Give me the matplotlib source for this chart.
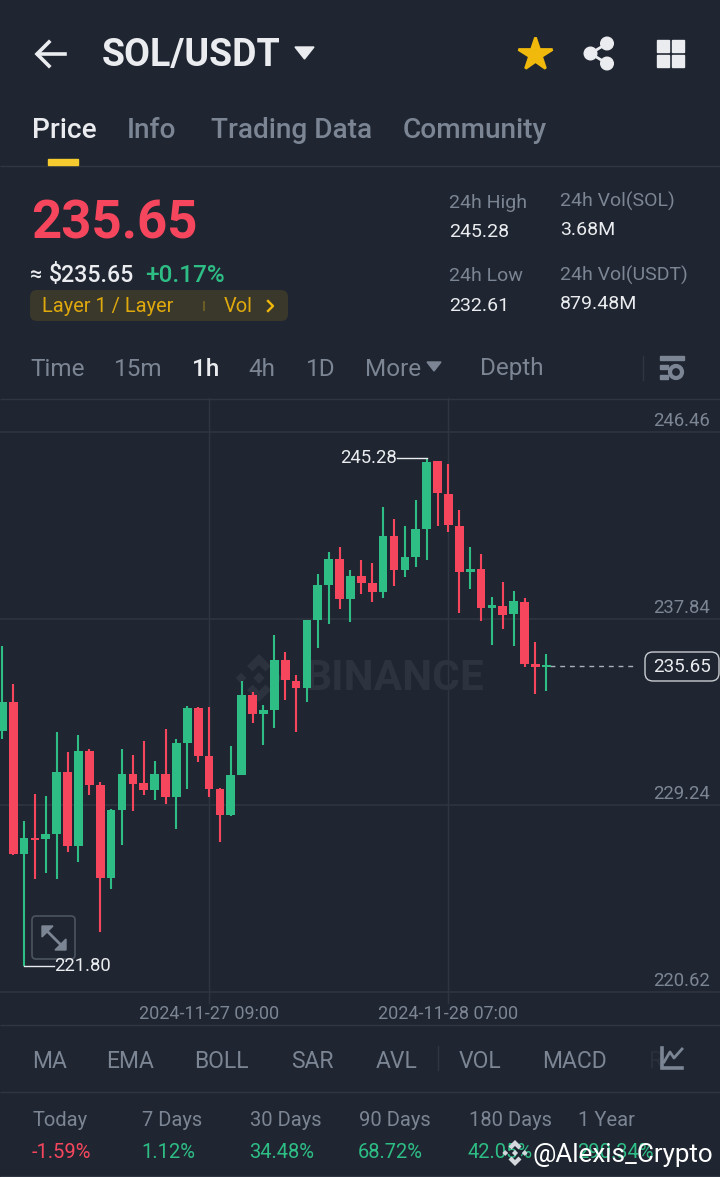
import matplotlib
matplotlib.use("Agg")
import matplotlib.pyplot as plt
from matplotlib.patches import FancyBboxPatch, Rectangle, Polygon, Circle
import numpy as np

plt.rcParams['font.family'] = ['Roboto', 'DejaVu Sans']

# ======= candle data (1h) =======
opens = [232.67, 233.99, 227.01, 227.73, 227.69, 227.92, 230.79, 227.37, 231.76, 230.19,
         225.90, 229.04, 230.70, 230.26, 229.92, 230.69, 229.63, 232.12, 233.73, 231.52,
         230.01, 228.78, 230.65, 234.33, 233.47, 233.64, 235.93, 234.99, 234.64, 237.79,
         239.39, 240.59, 238.76, 239.82, 239.51, 239.08, 241.66, 240.08, 240.68, 241.97,
         245.11, 243.62, 242.13, 240.02, 240.13, 238.36, 238.45, 238.05, 238.63, 235.75,
         235.64]
closes = [233.99, 227.01, 227.73, 227.64, 227.91, 230.79, 227.37, 231.76, 230.19, 225.90,
          229.03, 230.70, 230.23, 229.92, 230.69, 229.63, 232.12, 233.72, 231.52, 229.99,
          228.80, 230.65, 234.33, 233.47, 233.62, 235.93, 235.02, 234.64, 237.79, 239.39,
          240.59, 238.76, 239.82, 239.51, 239.08, 241.66, 240.08, 240.68, 241.97, 245.09,
          243.63, 242.16, 240.02, 240.14, 238.33, 238.47, 238.03, 238.65, 235.76, 235.64,
          235.70]
highs = [236.60, 234.84, 228.51, 229.76, 229.67, 232.64, 231.69, 232.49, 231.84, 230.30,
         229.06, 231.84, 231.56, 232.20, 231.27, 232.76, 232.30, 233.81, 233.76, 233.78,
         230.03, 231.95, 234.99, 234.46, 233.86, 237.08, 236.33, 235.27, 237.80, 239.90,
         240.91, 241.14, 240.11, 240.56, 240.43, 243.00, 242.45, 242.11, 243.33, 245.28,
         245.11, 244.99, 242.85, 241.14, 240.82, 238.86, 239.54, 239.14, 238.82, 236.78,
         236.21]
lows = [232.30, 226.95, 221.80, 225.83, 226.11, 225.83, 227.09, 226.61, 229.73, 223.41,
        225.37, 227.41, 228.99, 229.73, 229.49, 229.30, 228.15, 229.99, 231.24, 229.64,
        227.52, 228.76, 230.64, 233.04, 232.04, 232.78, 234.10, 232.62, 234.01, 236.51,
        237.59, 238.28, 237.71, 238.99, 238.63, 238.79, 239.36, 239.79, 240.25, 240.56,
        242.11, 241.86, 238.11, 239.23, 237.74, 236.62, 237.37, 236.58, 235.64, 234.39,
        234.53]

price_ticks = [246.46, 237.84, 229.24, 220.62]
date_labels = ["2024-11-27 09:00", "2024-11-28 07:00"]
date_slots = [19, 41]
last_price = 235.65
high_mark = (39, 245.28)
low_mark = (2, 221.80)

tabs = ["Price", "Info", "Trading Data", "Community"]
intervals = ["Time", "15m", "1h", "4h", "1D", "More", "Depth"]
indicators = ["MA", "EMA", "BOLL", "SAR", "AVL", "VOL", "MACD"]
periods = ["Today", "7 Days", "30 Days", "90 Days", "180 Days", "1 Year"]
period_vals = ["-1.59%", "1.12%", "34.48%", "68.72%", "42.05%", "290.34%"]

BG = "#1f2631"
GREEN = "#2ebd85"
RED = "#f6465d"
GREY = "#7c8594"
LINE = "#2f3641"
WHITE = "#eaecef"
YEL = "#f0b90b"

fig = plt.figure(figsize=(7.2, 11.77), dpi=100, facecolor=BG)

# ======= page layer, in pixels =======
ui = fig.add_axes([0, 0, 1, 1])
ui.set_xlim(0, 720)
ui.set_ylim(1177, 0)
ui.axis("off")


def t(x, y, s, size, color=GREY, ha="left", weight="normal", z=5):
    # va center sits about 2px high against the screenshot
    return ui.text(x, y + 2, s, fontsize=size, color=color, ha=ha, va="center", fontweight=weight, zorder=z)


def hline(y, x0=0, x1=720, color=LINE, lw=1.0):
    ui.plot([x0, x1], [y, y], color=color, lw=lw, solid_capstyle="butt")


def rbox(x, y, w, h, r, **kw):
    ui.add_patch(FancyBboxPatch((x + r, y + r), w - 2 * r, h - 2 * r,
                                boxstyle="round,pad=%s,rounding_size=%s" % (r, r), **kw))


def logo(cx, cy, r, color, z=1):
    # exchange logo: three diamonds and two chevrons
    for dx in [-0.75, 0, 0.75]:
        q = 0.25 * r * (0.95 if dx == 0 else 0.9)
        x0 = cx + dx * r
        ui.add_patch(Polygon([(x0 - q, cy), (x0, cy - q), (x0 + q, cy), (x0, cy + q)],
                             closed=True, fc=color, ec="none", zorder=z))
    for sgn in [-1, 1]:
        pts = [(0, -1.0), (0.5, -0.5), (0.27, -0.27), (0, -0.54), (-0.27, -0.27), (-0.5, -0.5)]
        ui.add_patch(Polygon([(cx + a * r, cy + sgn * b * r) for a, b in pts],
                             closed=True, fc=color, ec="none", zorder=z))


# header
ui.plot([49, 37, 49], [42, 54, 66], color=WHITE, lw=2.6, solid_joinstyle="miter")
ui.plot([38, 65], [54, 54], color=WHITE, lw=2.6)
t(102, 54, "SOL/USDT", 27, WHITE, weight="bold")
ui.add_patch(Polygon([(295, 47), (314, 47), (304.5, 59)], color=WHITE))
ui.plot([535], [54], marker="*", ms=25, color=YEL, mec=YEL, mew=2)
for cx, cy in [(607, 43.5), (590.5, 53.5), (607, 63.5)]:
    ui.add_patch(Circle((cx, cy), 6.3, color=WHITE))
ui.plot([607, 590.5, 607], [43.5, 53.5, 63.5], color=WHITE, lw=2)
for gx, gy in [(657, 40), (672, 40), (657, 55), (672, 55)]:
    ui.add_patch(Rectangle((gx, gy), 11.7, 12, color=WHITE))

# tabs
for x, s, c in zip([32, 127, 211, 403], tabs, [WHITE, GREY, GREY, GREY]):
    t(x, 129, s, 20.2, c, weight="medium")
ui.add_patch(Rectangle((48, 159), 30, 6, color="#f6cb2f", zorder=3))
hline(165.5)

# price block
t(31, 222, "235.65", 38, RED, weight="bold")
t(30, 273, "≈", 15.5, WHITE, weight="medium")
t(49, 273, "$235.65", 16.7, WHITE, weight="medium")
t(145, 273, "+0.17%", 17.5, GREEN, weight="medium")
rbox(30, 290, 258, 31, 7, fc="#3a372b", ec="none")
t(42, 304, "Layer 1 / Layer", 14.4, "#dfa90d")
ui.plot([204, 204], [302, 310], color="#6b5f25", lw=1.4)
t(224, 304, "Vol", 14.4, "#dfa90d")
ui.plot([268, 273, 268], [301, 306, 311], color=YEL, lw=1.7)

t(449, 201, "24h High", 14, GREY)
t(449, 230, "245.28", 14, WHITE)
t(449, 274, "24h Low", 14, GREY)
t(449, 304, "232.61", 14, WHITE)
t(560, 199, "24h Vol(SOL)", 14, GREY)
t(560, 228, "3.68M", 14, WHITE)
t(560, 273, "24h Vol(USDT)", 14, GREY)
t(560, 302, "879.48M", 14, WHITE)

# interval row
for x, s in zip([30, 114, 192, 248, 306, 365, 480], intervals):
    t(x, 367, s, 17.5, WHITE if s == "1h" else GREY, weight="medium" if s == "1h" else "normal")
ui.add_patch(Polygon([(427, 362), (441, 362), (434, 371)], color=GREY))
ui.plot([642.5, 642.5], [356, 380], color=LINE, lw=1)
ui.add_patch(Rectangle((660, 356), 24, 3.5, color=GREY))
ui.add_patch(Rectangle((660, 365), 8, 4, color=GREY))
ui.add_patch(Rectangle((660, 375), 8, 4, color=GREY))
ui.add_patch(Circle((676, 372), 6, fc=BG, ec=GREY, lw=3))
hline(398.5)

# ======= candles =======
top_px, bot_px = 398, 992
ax = fig.add_axes([0, 1 - bot_px / 1177, 1, (bot_px - top_px) / 1177])
ax.patch.set_alpha(0)
ax.set_xlim(-0.211, 65.96)
ax.set_ylim(220.62, 248.03)
ax.set_axis_off()
ax.set_zorder(2)

opens_a, closes_a = np.array(opens), np.array(closes)
idx = np.arange(len(opens))
colors = [GREEN if c >= o else RED for o, c in zip(opens_a, closes_a)]
for p in price_ticks:
    ax.axhline(p, color=LINE, lw=1.1, zorder=1, clip_on=False)
ax.vlines(idx, lows, highs, colors=colors, lw=1.5, zorder=3)
ax.bar(idx, np.maximum(np.abs(closes_a - opens_a), 0.07), bottom=np.minimum(opens_a, closes_a),
       width=0.8, color=colors, zorder=4)

# extreme markers
ax.plot([high_mark[0], high_mark[0] - 2.7], [high_mark[1]] * 2, color=WHITE, lw=1, zorder=5)
ax.plot([low_mark[0], low_mark[0] + 2.75], [low_mark[1]] * 2, color=WHITE, lw=1, zorder=5)
ax.text(high_mark[0] - 2.75, high_mark[1], "%.2f" % high_mark[1], color=WHITE, fontsize=13.3, ha="right", va="center")
ax.text(low_mark[0] + 2.75, low_mark[1], "%.2f" % low_mark[1], color=WHITE, fontsize=13.3, ha="left", va="center")

# last price
ax.plot([50.3, 58.2], [last_price, last_price], color="#aab0ba", lw=1, ls=(0, (3.5, 3.5)), zorder=2)

# vertical grid goes a little below the last price line
for s in date_slots:
    x_px = 2.3 + 10.88 * s
    ui.plot([x_px, x_px], [398, 1003], color=LINE, lw=1, zorder=0)
for s, lab in zip(date_slots, date_labels):
    t(2.3 + 10.88 * s, 1012, lab, 13, GREY, ha="center")

for p, y in zip(price_ticks, [419, 606, 792, 979]):
    t(710, y, "%.2f" % p, 13.3, GREY, ha="right")

rbox(645, 652, 74, 29, 8, fc=BG, ec="#c9ccd1", lw=1, zorder=6)
t(682, 665, "%.2f" % last_price, 13.5, WHITE, ha="center", z=7)

# watermark
logo(259, 678, 24, "#2c333e")
t(304, 677, "BINANCE", 30.5, "#2c333e", weight="bold", z=1)

# expand button
rbox(32, 916, 43, 43, 4, fc=BG, ec="#4c5461", lw=1.2, zorder=6)
ui.plot([45, 63], [929, 947], color=GREY, lw=2, zorder=7)
ui.add_patch(Polygon([(42, 926), (53, 926), (42, 937)], color=GREY, zorder=7))
ui.add_patch(Polygon([(66, 950), (55, 950), (66, 939)], color=GREY, zorder=7))

# indicator row
hline(1024.5)
for x, s in zip([32, 106, 194, 291, 376, 459, 542], indicators):
    t(x, 1059, s, 16.5, GREY)
ui.plot([437.5, 437.5], [1046, 1070], color=LINE, lw=1)
t(648, 1059, "R", 16.5, "#343b47")
ui.add_patch(Rectangle((640, 1040), 20, 40, color=BG, alpha=0.5, zorder=6))
ui.plot([662, 662, 682], [1048, 1068, 1068], color=GREY, lw=2.6, solid_joinstyle="miter", zorder=7)
ui.plot([664, 670, 674, 682], [1062, 1052, 1058, 1049], color=GREY, lw=2, zorder=7)
hline(1091.5)

# period row
for x, s, v in zip([33, 142, 250, 359, 469, 578], periods, period_vals):
    t(x, 1118, s, 14.5, GREY)
    t(x - 1, 1151, v, 14.5, RED if v.startswith("-") else GREEN, z=3)
hline(1176, color=LINE)

# screenshot credit on top
logo(515, 1153, 13, "#d5d8dd", z=8)
t(532, 1153, "@Alexis_Crypto", 18.7, "#ffffff", z=9)

fig.savefig("out.png", dpi=100, facecolor=BG)
